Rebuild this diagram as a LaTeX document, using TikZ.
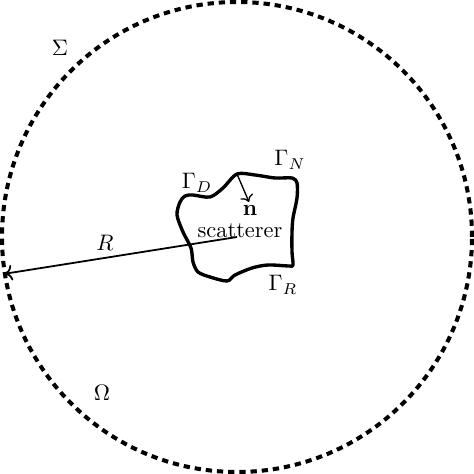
\documentclass[tikz,border=0pt]{standalone}
\usetikzlibrary{arrows.meta,calc}
\begin{document}
\begin{tikzpicture}[x=0.446pt,y=0.446pt,
  boundary/.style={dash pattern=on 2.8pt off 2.2pt, line width=1.8pt},
  scat/.style={line width=1.5pt, line join=round},
  radius arrow/.style={thick,->},
  normal arrow/.style={semithick,->},
  lbl/.style={inner sep=0pt}]
\useasboundingbox (0,0) rectangle (474,474);
\coordinate (c) at (237,237);
\draw[boundary] (c) circle [radius=235];
\draw[scat] plot[smooth cycle, tension=0.5] coordinates {
 (237,300) (255,299) (275,296) (292,296) (297,291) (297,276) (293,256)
 (292,242) (292,222) (293,209) (289,208) (268,209) (252,206) (235,199)
 (227,193) (210,197) (198,202) (193,212) (191,226) (183,242) (177,259)
 (180,272) (185,278) (193,279) (210,277) (223,286)};
\coordinate (p) at (237,300);
\coordinate (q) at (249,272);
\draw[normal arrow] (p) -- (q);
\coordinate (e) at ($(c)+(189:235)$);
\draw[radius arrow] (c) -- (e);
\node[lbl] (gd) at (197,291) {$\Gamma_D$};
\node[lbl] (gn) at (290,314) {$\Gamma_N$};
\node[lbl] (gr) at (283,189) {$\Gamma_R$};
\node[lbl] (n) at (250,263) {$\mathbf{n}$};
\node[lbl] (s) at (240,243) {scatterer};
\node[lbl] (r) at (105,231) {$R$};
\node[lbl] (sig) at (60,426) {$\Sigma$};
\node[lbl] (om) at (102,81) {$\Omega$};
\end{tikzpicture}
\end{document}
